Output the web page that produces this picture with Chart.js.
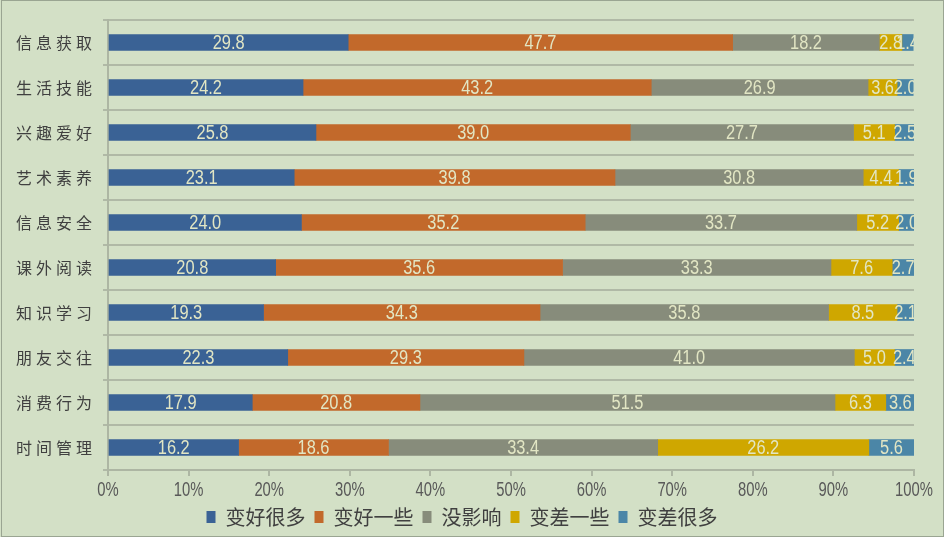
<!DOCTYPE html>
<html>
<head>
  <meta charset="utf-8">
  <title>影响程度</title>
  <script src="https://cdn.jsdelivr.net/npm/chart.js"></script>
  <style>
    html, body { margin: 0; padding: 0; background: #d3e0c6; }
    #wrap { width: 944px; height: 537px; position: relative; }
  </style>
</head>
<body>
<div id="wrap"><canvas id="impactChart" width="944" height="537"></canvas></div>

<script>
  // categories, top to bottom
  const categories = ['信息获取', '生活技能', '兴趣爱好', '艺术素养', '信息安全',
                      '课外阅读', '知识学习', '朋友交往', '消费行为', '时间管理'];
  const seriesNames = ['变好很多', '变好一些', '没影响', '变差一些', '变差很多'];

  const muchBetter   = [29.8, 24.2, 25.8, 23.1, 24.0, 20.8, 19.3, 22.3, 17.9, 16.2];
  const littleBetter = [47.7, 43.2, 39.0, 39.8, 35.2, 35.6, 34.3, 29.3, 20.8, 18.6];
  const noEffect     = [18.2, 26.9, 27.7, 30.8, 33.7, 33.3, 35.8, 41.0, 51.5, 33.4];
  const littleWorse  = [2.8, 3.6, 5.1, 4.4, 5.2, 7.6, 8.5, 5.0, 6.3, 26.2];
  const muchWorse    = [1.4, 2.0, 2.5, 1.9, 2.0, 2.7, 2.1, 2.4, 3.6, 5.6];

  const xTicks = [0, 10, 20, 30, 40, 50, 60, 70, 80, 90, 100];

  const colors = ['#3a6295', '#c2692b', '#878c7b', '#cfa700', '#4b86a7'];
  const sans = "'Liberation Sans', Arial, sans-serif";
  const cjk = "'Noto Sans CJK SC', sans-serif";

  // narrow-looking text: normal sans squeezed horizontally
  function narrowText(c, text, x, y, sx) {
    c.save();
    c.translate(x, y);
    c.scale(sx, 1);
    c.fillText(text, 0, 0);
    c.restore();
  }

  // background + frame
  const bgPlugin = {
    id: 'bg',
    beforeDraw(chart) {
      const c = chart.ctx;
      c.save();
      c.fillStyle = '#d3e0c6';
      c.fillRect(0, 0, chart.width, chart.height);
      c.strokeStyle = '#9aa592';
      c.lineWidth = 1;
      c.strokeRect(1.5, 0.5, chart.width - 2, chart.height - 1);
      c.restore();
    }
  };

  // category labels (letter spaced) and x tick labels, placed by the scales
  const axisLabels = {
    id: 'axisLabels',
    afterDraw(chart) {
      const c = chart.ctx;
      const y = chart.scales.y;
      const x = chart.scales.x;
      c.save();
      c.font = '16px ' + cjk;
      c.fillStyle = '#404040';
      c.letterSpacing = '4px';
      c.textAlign = 'right';
      c.textBaseline = 'middle';
      categories.forEach((name, i) => {
        c.fillText(name, 96, y.getPixelForValue(i));
      });
      c.letterSpacing = '0px';
      c.font = '20px ' + sans;
      c.fillStyle = '#595959';
      c.textAlign = 'center';
      xTicks.forEach(v => {
        narrowText(c, v + '%', x.getPixelForValue(v), chart.chartArea.bottom + 20, 0.74);
      });
      c.restore();
    }
  };

  // value labels in the middle of each segment, clipped to the plot area
  const valueLabels = {
    id: 'valueLabels',
    afterDatasetsDraw(chart) {
      const c = chart.ctx;
      const area = chart.chartArea;
      c.save();
      c.beginPath();
      c.rect(area.left, area.top, area.right - area.left, area.bottom - area.top);
      c.clip();
      c.font = '20px ' + sans;
      c.fillStyle = '#e2e6c4';
      c.textAlign = 'center';
      c.textBaseline = 'middle';
      chart.data.datasets.forEach((ds, di) => {
        chart.getDatasetMeta(di).data.forEach((bar, i) => {
          const p = bar.getProps(['x', 'y', 'base'], true);
          narrowText(c, ds.data[i].toFixed(1), (p.x + p.base) / 2, p.y + 1, 0.82);
        });
      });
      c.restore();
    }
  };

  const ctx = document.getElementById('impactChart').getContext('2d');
  new Chart(ctx, {
    type: 'bar',
    data: {
      labels: categories,
      datasets: [muchBetter, littleBetter, noEffect, littleWorse, muchWorse].map((d, i) => ({
        label: seriesNames[i],
        data: d,
        backgroundColor: colors[i],
        borderWidth: 0,
        barThickness: 16
      }))
    },
    options: {
      indexAxis: 'y',
      responsive: false,
      animation: false,
      layout: { padding: { left: 10, right: 30, top: 20, bottom: 0 } },
      plugins: {
        legend: {
          position: 'bottom',
          labels: {
            boxWidth: 9,
            boxHeight: 12,
            padding: 9,
            color: '#404040',
            font: { family: cjk, size: 20 }
          }
        },
        tooltip: { enabled: false }
      },
      scales: {
        x: {
          stacked: true,
          min: 0,
          max: 100,
          afterBuildTicks(scale) { scale.ticks = xTicks.map(v => ({ value: v })); },
          grid: { drawOnChartArea: false, color: '#adb6a3', lineWidth: 2, tickLength: 6 },
          border: { color: '#adb6a3', width: 2 },
          ticks: {
            // real labels are drawn squeezed by the axisLabels plugin
            color: 'rgba(0,0,0,0)',
            font: { family: sans, size: 15 },
            padding: 2,
            maxRotation: 0,
            callback: v => v + '%'
          }
        },
        y: {
          stacked: true,
          afterFit(scale) { scale.width = 98; },
          grid: { color: '#b0b9a6', lineWidth: 2, tickLength: 5, offset: true },
          border: { color: '#adb6a3', width: 2 },
          ticks: { display: false }
        }
      }
    },
    plugins: [bgPlugin, axisLabels, valueLabels]
  });
</script>
</body>
</html>
